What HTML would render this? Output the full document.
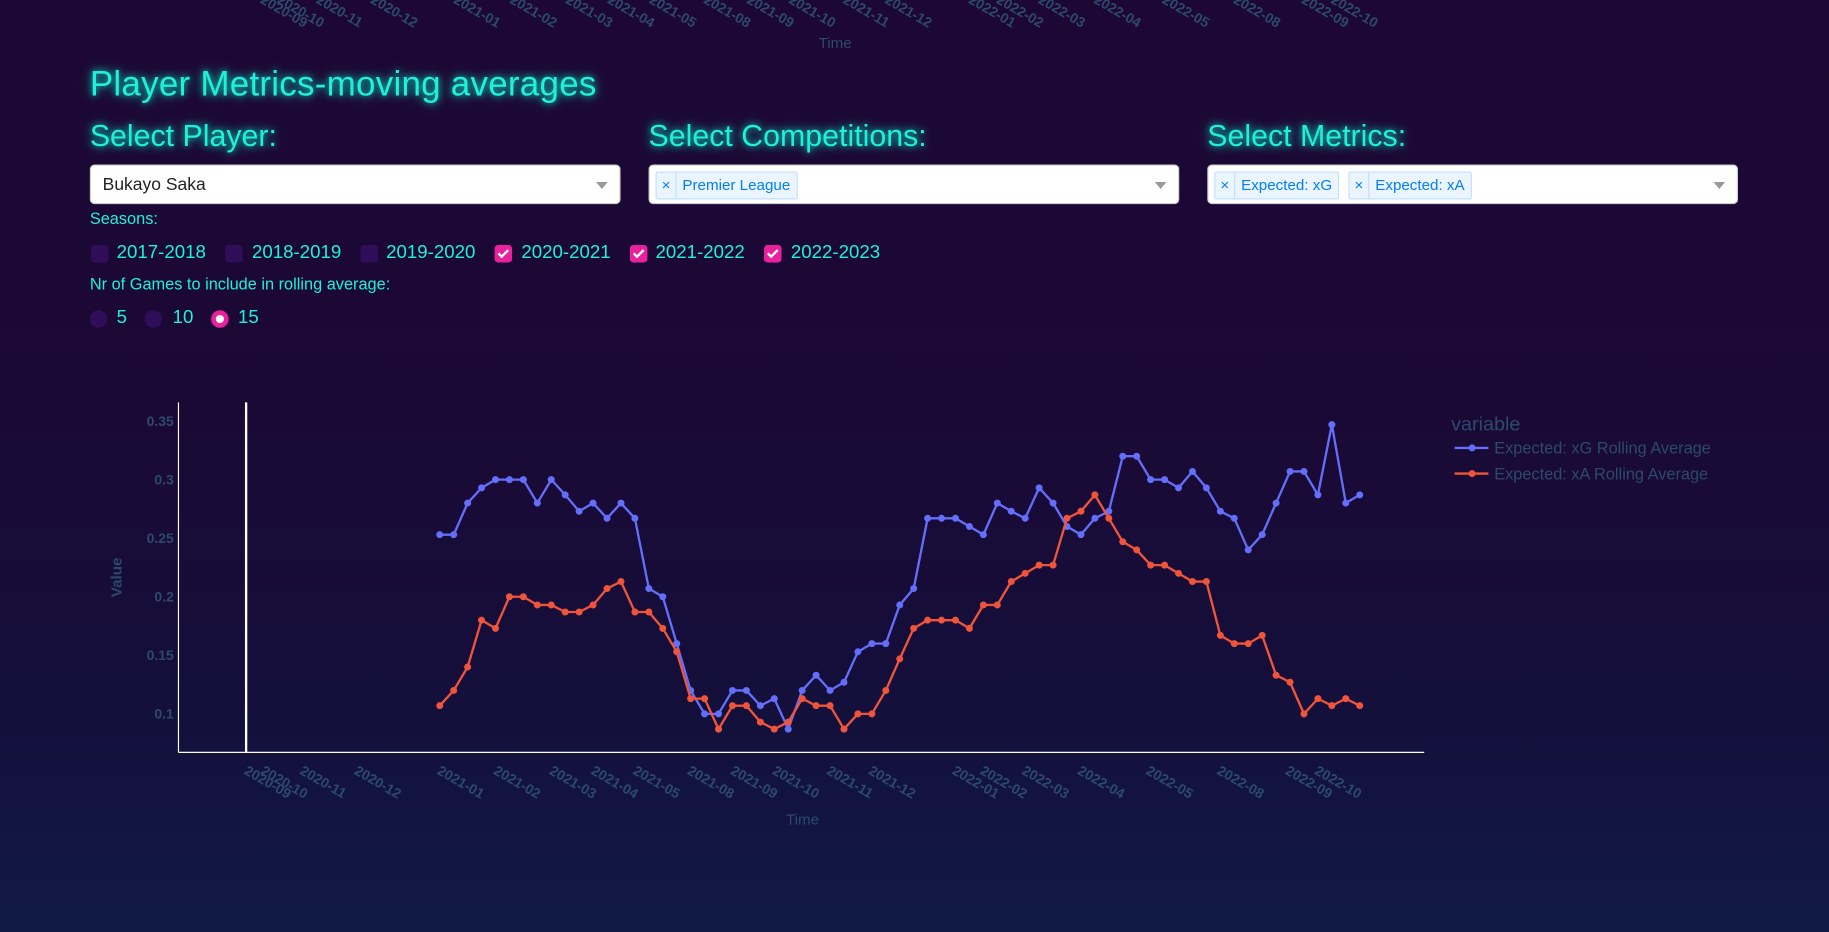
<!DOCTYPE html>
<html><head><meta charset="utf-8">
<style>
html,body{margin:0;padding:0;width:1829px;height:932px;overflow:hidden;font-family:"Liberation Sans",sans-serif;}
body{background:linear-gradient(#1d0734 0%,#1b0935 45%,#140f3b 75%,#101a44 100%);}
#wrap{position:absolute;left:0;top:0;width:1568px;height:799px;transform:scale(1.16645);transform-origin:0 0;}
.cy{color:#1ff0d8;}
.glow{text-shadow:0 0 6px #13c6b4,0 0 12px #0a8f86;}
.abs{position:absolute;}
.dd{position:absolute;top:141px;height:34px;width:455px;background:#fff;border-radius:4px;box-sizing:border-box;border:1px solid #ccc;}
.arrow{position:absolute;right:10px;top:14px;width:0;height:0;border-left:5px solid transparent;border-right:5px solid transparent;border-top:6px solid #999;}
.tag{position:absolute;top:5px;height:24px;border:1px solid #c2e0ff;background:#ebf5ff;color:#007eff;font-size:13px;box-sizing:border-box;border-radius:2px;line-height:22px;white-space:nowrap;}
.tag .x{display:inline-block;width:16px;text-align:center;border-right:1px solid #c2e0ff;}
.tag .t{padding:0 5px;}
.cb{position:absolute;top:210px;width:15px;height:15px;border-radius:3px;background:#300d58;}
.cb.on{background:#e9219c;}
.cb.on:after{content:"";position:absolute;left:5px;top:2px;width:3px;height:7px;border:solid #fff;border-width:0 2px 2px 0;transform:rotate(45deg);}
.lbl{position:absolute;font-size:16px;color:#1ff0d8;}
.rd{position:absolute;top:266px;width:15px;height:15px;border-radius:50%;background:#300d58;box-sizing:border-box;}
.rd.on{background:#fff;border:4px solid #e9219c;}
</style></head>
<body>
<div id="wrap">
<svg class="abs" style="left:0;top:0" width="1568" height="50">
<g fill="#2b4a6c" font-size="12" font-family="Liberation Sans" font-weight="bold" id="topticks"></g>
<text x="716" y="41" fill="#2b4a6c" font-size="13" text-anchor="middle">Time</text>
</svg>
<div class="abs cy glow" style="left:77px;top:56px;font-size:30px;letter-spacing:0.2px">Player Metrics-moving averages</div>
<div class="abs cy glow" style="left:77px;top:101px;font-size:26px;">Select Player:</div>
<div class="abs cy glow" style="left:556px;top:101px;font-size:26px;">Select Competitions:</div>
<div class="abs cy glow" style="left:1035px;top:101px;font-size:26px;">Select Metrics:</div>

<div class="dd" style="left:77px">
<span class="abs" style="left:10px;top:8px;font-size:15px;color:#222">Bukayo Saka</span><div class="arrow"></div></div>
<div class="dd" style="left:556px">
<div class="tag" style="left:5px"><span class="x">×</span><span class="t">Premier League</span></div><div class="arrow"></div></div>
<div class="dd" style="left:1035px">
<div class="tag" style="left:5px"><span class="x">×</span><span class="t">Expected: xG</span></div>
<div class="tag" style="left:120px"><span class="x">×</span><span class="t">Expected: xA</span></div><div class="arrow"></div></div>

<div class="lbl" style="left:77px;top:179px;font-size:14px">Seasons:</div>
<div class="cb" style="left:78px"></div><div class="lbl" style="left:100px;top:208px">2017-2018</div>
<div class="cb" style="left:193px"></div><div class="lbl" style="left:216px;top:208px">2018-2019</div>
<div class="cb" style="left:309px"></div><div class="lbl" style="left:331px;top:208px">2019-2020</div>
<div class="cb on" style="left:424px"></div><div class="lbl" style="left:447px;top:208px">2020-2021</div>
<div class="cb on" style="left:540px"></div><div class="lbl" style="left:562px;top:208px">2021-2022</div>
<div class="cb on" style="left:655px"></div><div class="lbl" style="left:678px;top:208px">2022-2023</div>
<div class="lbl" style="left:77px;top:235px;font-size:14px">Nr of Games to include in rolling average:</div>
<div class="rd" style="left:77px"></div><div class="lbl" style="left:100px;top:264px">5</div>
<div class="rd" style="left:124px"></div><div class="lbl" style="left:148px;top:264px">10</div>
<div class="rd on" style="left:181px"></div><div class="lbl" style="left:204px;top:264px">15</div>

<svg class="abs" style="left:0;top:0" width="1568" height="799" id="chart">
<line x1="153" y1="345" x2="153" y2="645" stroke="#fff" stroke-width="1"/>
<line x1="153" y1="645" x2="1221" y2="645" stroke="#fff" stroke-width="1"/>
<line x1="211" y1="345" x2="211" y2="645" stroke="#fff" stroke-width="2"/>
<g id="yticks" fill="#2b4a6c" font-size="12" font-weight="bold" text-anchor="end"></g>
<g id="xticks" fill="#2b4a6c" font-size="12" font-weight="bold"></g>
<g id="series"></g>
<text x="104" y="495" fill="#2b4a6c" font-size="13" font-weight="bold" text-anchor="middle" transform="rotate(-90 104 495)">Value</text>
<text x="688" y="707" fill="#2b4a6c" font-size="13" text-anchor="middle">Time</text>
<text x="1244" y="369" fill="#2b4a6c" font-size="17">variable</text>
<g><line x1="1247" y1="384" x2="1276" y2="384" stroke="#636efa" stroke-width="2"/><circle cx="1262" cy="384" r="3" fill="#636efa"/><text x="1281" y="389" fill="#2b4a6c" font-size="14">Expected: xG Rolling Average</text></g>
<g><line x1="1247" y1="406" x2="1276" y2="406" stroke="#ef553b" stroke-width="2"/><circle cx="1262" cy="406" r="3" fill="#ef553b"/><text x="1281" y="411" fill="#2b4a6c" font-size="14">Expected: xA Rolling Average</text></g>
</svg>
</div>
<script>
const xgValues=[0.253,0.253,0.280,0.293,0.300,0.300,0.300,0.280,0.300,0.287,0.273,0.280,0.267,0.280,0.267,0.207,0.200,0.160,0.120,0.100,0.100,0.120,0.120,0.107,0.113,0.087,0.120,0.133,0.120,0.127,0.153,0.160,0.160,0.193,0.207,0.267,0.267,0.267,0.260,0.253,0.280,0.273,0.267,0.293,0.280,0.260,0.253,0.267,0.273,0.320,0.320,0.300,0.300,0.293,0.307,0.293,0.273,0.267,0.240,0.253,0.280,0.307,0.307,0.287,0.347,0.280,0.287];
const xaValues=[0.107,0.120,0.140,0.180,0.173,0.200,0.200,0.193,0.193,0.187,0.187,0.193,0.207,0.213,0.187,0.187,0.173,0.153,0.113,0.113,0.087,0.107,0.107,0.093,0.087,0.093,0.113,0.107,0.107,0.087,0.100,0.100,0.120,0.147,0.173,0.180,0.180,0.180,0.173,0.193,0.193,0.213,0.220,0.227,0.227,0.267,0.273,0.287,0.267,0.247,0.240,0.227,0.227,0.220,0.213,0.213,0.167,0.160,0.160,0.167,0.133,0.127,0.100,0.113,0.107,0.113,0.107];
const yTickValues=[0.1,0.15,0.2,0.25,0.3,0.35];
const yTickLabels=["0.1","0.15","0.2","0.25","0.3","0.35"];
const xTickLabels=["2020-09","2020-10","2020-11","2020-12","2021-01","2021-02","2021-03","2021-04","2021-05","2021-08","2021-09","2021-10","2021-11","2021-12","2022-01","2022-02","2022-03","2022-04","2022-05","2022-08","2022-09","2022-10"];
const xTickIndex=[-14.1,-12.9,-10.1,-6.2,-0.25,3.8,7.8,10.8,13.8,17.7,20.8,23.8,27.7,30.7,36.7,38.7,41.7,45.7,50.6,55.7,60.6,62.7];

const NS="http://www.w3.org/2000/svg";
function xs(i){return 377+i*11.95;}
function ys(v){return 612-(v-0.1)*1004;}
const yg=document.getElementById('yticks');
yTickValues.forEach((v,k)=>{
  const t=document.createElementNS(NS,'text');
  t.setAttribute('x',149);t.setAttribute('y',ys(v)+4);t.textContent=yTickLabels[k];
  
  
  yg.appendChild(t);
});
const xg=document.getElementById('xticks');
const tg=document.getElementById('topticks');
xTickIndex.forEach((ix,k)=>{
  const x=xs(ix);
  const t=document.createElementNS(NS,'text');
  t.setAttribute('x',x);t.setAttribute('y',663);
  t.setAttribute('transform','rotate(30 '+x+' 663)');
  t.textContent=xTickLabels[k];
  
  
  xg.appendChild(t);
  const t2=document.createElementNS(NS,'text');
  const x2=x+14;
  t2.setAttribute('x',x2);t2.setAttribute('y',2);
  t2.setAttribute('transform','rotate(30 '+x2+' 2)');
  t2.textContent=xTickLabels[k];
  
  
  tg.appendChild(t2);
});
function drawSeries(vals,color,name){
  const g=document.getElementById('series');
  const p=document.createElementNS(NS,'polyline');
  p.setAttribute('points',vals.map((v,i)=>xs(i)+','+ys(v)).join(' '));
  p.setAttribute('fill','none');p.setAttribute('stroke',color);p.setAttribute('stroke-width','2');
  
  
  g.appendChild(p);
  vals.forEach((v,i)=>{
    const c=document.createElementNS(NS,'circle');
    c.setAttribute('cx',xs(i));c.setAttribute('cy',ys(v));c.setAttribute('r',3);c.setAttribute('fill',color);
    
    
    g.appendChild(c);
  });
}
drawSeries(xgValues,'#636efa','xg');
drawSeries(xaValues,'#ef553b','xa');
</script>
</body></html>
